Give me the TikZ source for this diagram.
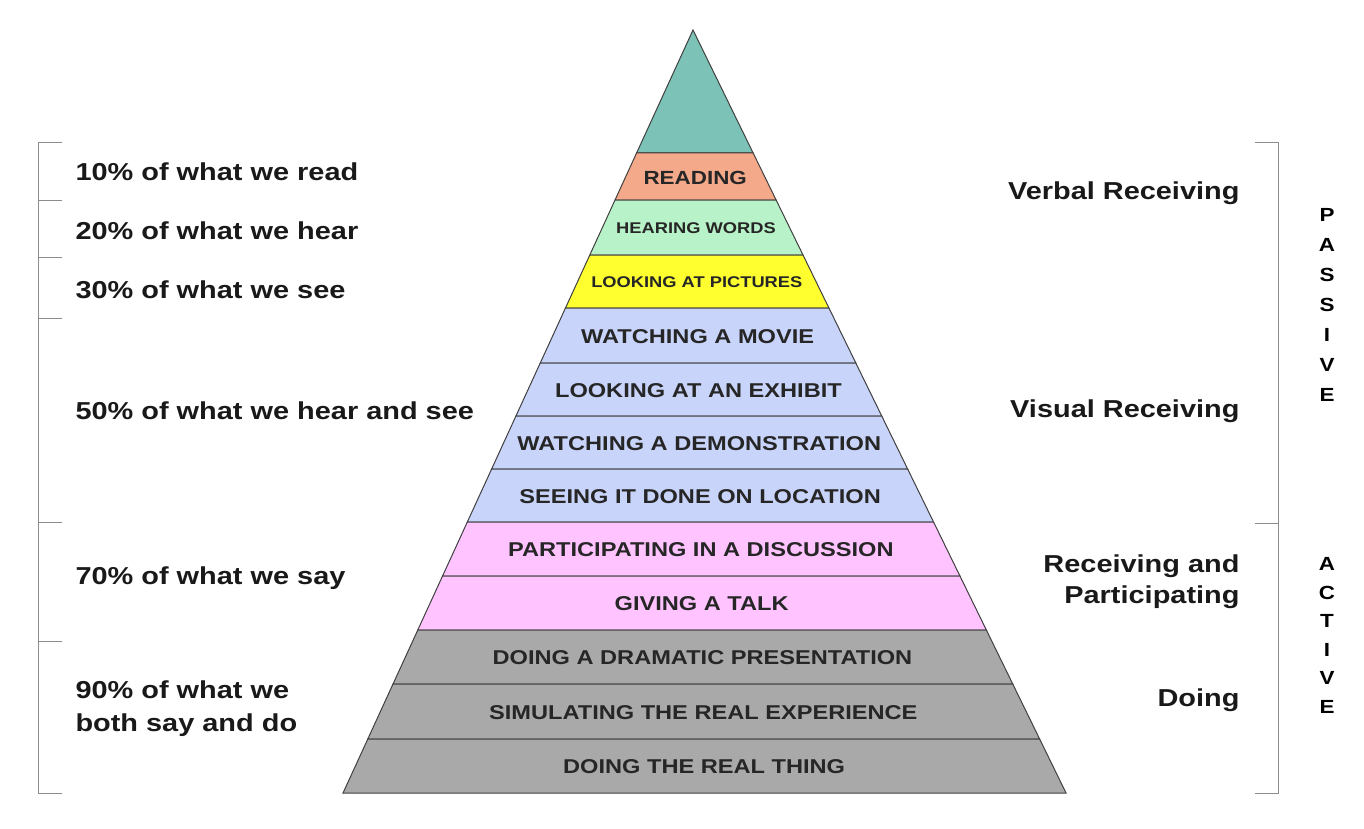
\documentclass[tikz,border=0pt]{standalone}
\usepackage{fontspec}
\setmainfont{Liberation Sans}[FakeStretch=1.18]
\begin{document}
\begin{tikzpicture}[x=1pt,y=-1pt,
  lbl/.style={font=\fontsize{24.5}{33}\selectfont\bfseries, anchor=west, align=left, text=black!90},
  rlbl/.style={font=\fontsize{24.5}{31}\selectfont\bfseries, anchor=east, align=right, text=black!90},
  vlet/.style={font=\fontsize{19}{19}\selectfont\bfseries},
  brk/.style={draw=black!45, line width=1pt}]
\useasboundingbox (0,0) rectangle (1364,829);
\newcommand\band[5]{%
  \pgfmathsetmacro\la{693-(#1-30)*0.4587}%
  \pgfmathsetmacro\ra{693+(#1-30)*0.4889}%
  \pgfmathsetmacro\lb{693-(#2-30)*0.4587}%
  \pgfmathsetmacro\rb{693+(#2-30)*0.4889}%
  \filldraw[fill=#3, draw=black!75, line width=1pt] (\la,#1) -- (\ra,#1) -- (\rb,#2) -- (\lb,#2) -- cycle;
  \node[font=\fontsize{#5}{#5}\selectfont\bfseries, text=black!85] (b#1) at ({(\la+\ra+\lb+\rb)/4},{(#1+#2)/2+1}) {#4};}
\definecolor{tealc}{HTML}{7CC2B6}
\filldraw[fill=tealc, draw=black!75, line width=1pt] (693,30) -- ({693+123*0.4889},153) -- ({693-123*0.4587},153) -- cycle;
\definecolor{salmon}{HTML}{F4A98A}
\definecolor{mint}{HTML}{B8F2C8}
\definecolor{yel}{HTML}{FFFF30}
\definecolor{lblue}{HTML}{C9D4FA}
\definecolor{lpink}{HTML}{FFC4FF}
\definecolor{gry}{HTML}{A9A9A9}
\band{153}{200}{salmon}{READING}{19}
\band{200}{255}{mint}{HEARING WORDS}{15.5}
\band{255}{308}{yel}{LOOKING AT PICTURES}{15.5}
\band{308}{363}{lblue}{WATCHING A MOVIE}{20}
\band{363}{416}{lblue}{LOOKING AT AN EXHIBIT}{20}
\band{416}{469}{lblue}{WATCHING A DEMONSTRATION}{20}
\band{469}{522}{lblue}{SEEING IT DONE ON LOCATION}{20}
\band{522}{576}{lpink}{PARTICIPATING IN A DISCUSSION}{20}
\band{576}{630}{lpink}{GIVING A TALK}{20}
\band{630}{684}{gry}{DOING A DRAMATIC PRESENTATION}{20}
\band{684}{739}{gry}{SIMULATING THE REAL EXPERIENCE}{20}
\band{739}{793}{gry}{DOING THE REAL THING}{20}
% left bracket
\draw[brk] (62,143) -- (38,143) -- (38,793) -- (62,793);
\foreach \yy in {200,257,318,522,641} \draw[brk] (38,\yy) -- (62,\yy);
\node[lbl] (l1) at (72,172) {10\% of what we read};
\node[lbl] (l2) at (72,231) {20\% of what we hear};
\node[lbl] (l3) at (72,290) {30\% of what we see};
\node[lbl] (l4) at (72,411) {50\% of what we hear and see};
\node[lbl] (l5) at (72,578) {70\% of what we say};
\node[lbl] (l6) at (72,709) {90\% of what we\\both say and do};
% right bracket
\draw[brk] (1255,143) -- (1278,143) -- (1278,793) -- (1255,793);
\draw[brk] (1278,523) -- (1255,523);
\node[rlbl] (r1) at (1243,193) {Verbal Receiving};
\node[rlbl] (r2) at (1243,411) {Visual Receiving};
\node[rlbl] (r3) at (1243,582) {Receiving and\\Participating};
\node[rlbl] (r4) at (1243,700) {Doing};
\foreach \c [count=\i] in {P,A,S,S,I,V,E} \node[vlet] (p\i) at (1327,{215+(\i-1)*30}) {\c};
\foreach \c [count=\i] in {A,C,T,I,V,E} \node[vlet] (a\i) at (1327,{564+(\i-1)*28.6}) {\c};
\end{tikzpicture}
\end{document}
